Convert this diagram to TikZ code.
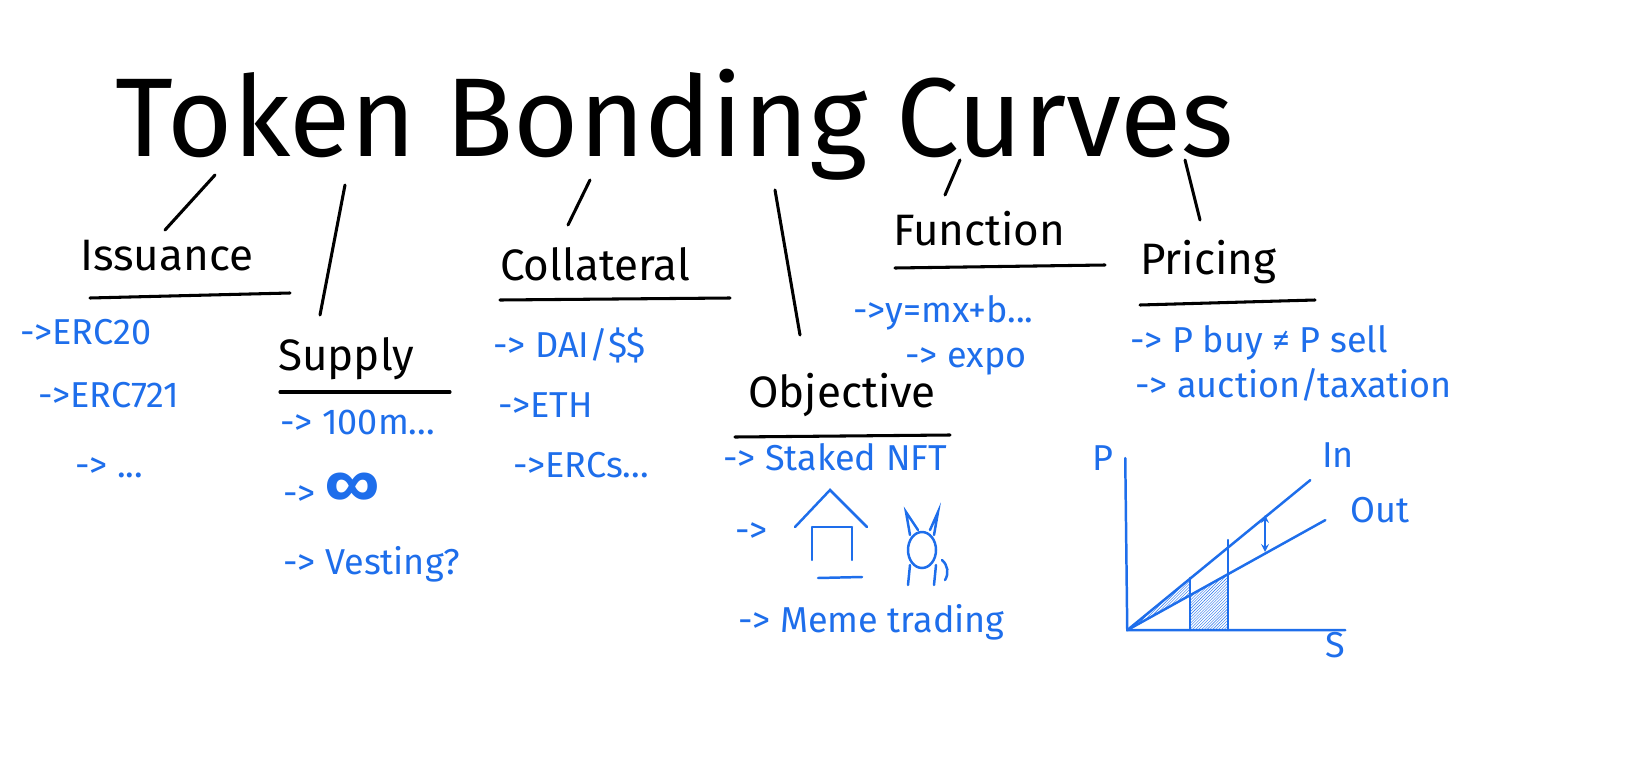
\documentclass[tikz,border=0pt]{standalone}
\usepackage{fontspec}
\setmainfont{Fira Sans}
\usetikzlibrary{patterns}
\definecolor{pen}{RGB}{30,110,235}
\tikzset{
 ttl/.style={font=\fontsize{112}{120}\selectfont,inner sep=0},
 hdr/.style={font=\fontsize{44}{50}\selectfont,inner sep=0,anchor=mid west},
 itm/.style={font=\fontsize{36}{42}\selectfont,inner sep=0,anchor=mid west,text=pen},
 stroke/.style={line width=3.2pt,line cap=round},
 bstroke/.style={line width=2.6pt,line cap=round,draw=pen},
}
\begin{document}
\begin{tikzpicture}[x=1pt,y=-1pt,scale=1.047,every node/.append style={transform shape}]
\node[ttl] (title) at (675,125) {Token Bonding Curves};
\draw[stroke] (215,175)--(165,230);
\draw[stroke] (345,185)--(320,315);
\draw[stroke] (590,180)--(568,225);
\draw[stroke] (775,190)--(800,335);
\draw[stroke] (960,160)--(945,195);
\draw[stroke] (1185,160)--(1200,220);
\node[hdr] (iss) at (80,268) {Issuance};
\draw[stroke] (90,298)--(290,293);
\node[hdr] (col) at (500,278) {Collateral};
\draw[stroke] (500,300)--(730,298);
\node[hdr] (fun) at (893,243) {Function};
\draw[stroke] (895,268)--(1105,265);
\node[hdr] (pri) at (1140,272) {Pricing};
\draw[stroke] (1140,305)--(1315,300);
\node[hdr] (sup) at (278,368) {Supply};
\draw[stroke] (280,392)--(450,392);
\node[hdr] (obj) at (748,405) {Objective};
\draw[stroke] (735,437)--(950,435);
\node[itm] (i1) at (20,342) {->ERC20};
\node[itm] (i2) at (38,405) {->ERC721};
\node[itm] (i3) at (75,475) {-> ...};
\node[itm] (s1) at (280,432) {-> 100m...};
\node[itm] (s2) at (283,503) {-> \fontsize{60}{60}\selectfont\textbf{∞}};
\node[itm] (s3) at (283,572) {-> Vesting?};
\node[itm] (c1) at (493,355) {-> DAI/\$\$};
\node[itm] (c2) at (498,415) {->ETH};
\node[itm] (c3) at (513,475) {->ERCs...};
\node[itm] (o1) at (723,468) {-> Staked NFT};
\node[itm] (o2) at (735,540) {->};
\node[itm] (o3) at (738,630) {-> Meme trading};
\draw[bstroke] (795,527)--(830,490)--(867,527);
\draw[bstroke] (812,527)--(812,560) (852,527)--(852,560) (812,527)--(852,527);
\draw[bstroke] (818,578)--(862,577);
\draw[bstroke] (922,550) ellipse (14 and 18);
\draw[bstroke] (910,535)--(906,512)--(918,530) (930,530)--(938,512)--(934,535);
\draw[bstroke] (908,585)--(910,565) (934,585)--(936,565);
\draw[bstroke] (942,560) to[bend left=40] (945,580);
\node[itm] (f1) at (853,320) {->y=mx+b...};
\node[itm] (f2) at (905,365) {-> expo};
\node[itm] (p1) at (1130,350) {-> P buy ≠ P sell};
\node[itm] (p2) at (1135,395) {-> auction/taxation};
% chart
\coordinate (o) at (1127,630);
\coordinate (ya) at (1125,458);
\coordinate (xa) at (1345,630);
\coordinate (inend) at (1310,480);
\coordinate (outend) at (1325,520);
\fill[pattern=north east lines,pattern color=pen] (o)--(1190,578.3)--(1190,594.6)--cycle;
\fill[pattern=north east lines,pattern color=pen] (1190,630)--(1190,594.6)--(1228,573.1)--(1228,630)--cycle;
\draw[bstroke] (ya)--(o)--(xa);
\draw[bstroke] (o)--(inend);
\draw[bstroke] (o)--(outend);
\draw[bstroke] (1190,578)--(1190,630) (1228,540)--(1228,630);
\draw[bstroke,<->,>=stealth] (1265,515)--(1265,552);
\node[itm] (P) at (1092,468) {P};
\node[itm] (S) at (1325,655) {S};
\node[itm] (in) at (1322,465) {In};
\node[itm] (out) at (1350,520) {Out};
\pgfresetboundingbox
\path[use as bounding box] (0,0) rectangle (1636,762);
\end{tikzpicture}
\end{document}
